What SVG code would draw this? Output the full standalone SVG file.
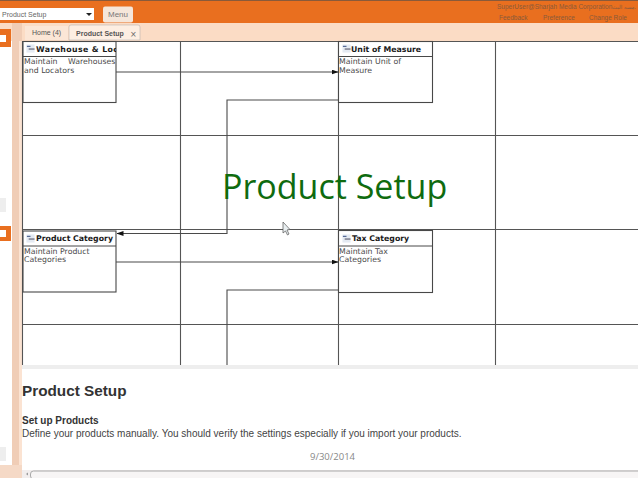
<svg xmlns="http://www.w3.org/2000/svg" width="638" height="478" viewBox="0 0 638 478">
<defs>
<style>
.grid{fill:none;stroke:#555;stroke-width:1.1}
.conn{fill:none;stroke:#4a4a4a;stroke-width:1.1}
.box{fill:#fff;stroke:#484848;stroke-width:1.1}
.sep{stroke:#484848;stroke-width:1}
.title{font-family:"DejaVu Sans",sans-serif;font-weight:700;font-size:7.800px;fill:#1a1a1a}
.desc{font-family:"DejaVu Sans",sans-serif;font-size:7.800px;fill:#4a4a4a}
.ui{font-family:"Liberation Sans",sans-serif;font-size:6.500px;fill:#8a5a3a}
.tab{font-family:"Liberation Sans",sans-serif;font-size:7px;fill:#555}
</style>
<marker id="arrow" markerWidth="7" markerHeight="5" refX="6.500" refY="2.500" orient="auto" markerUnits="userSpaceOnUse"><path d="M0,0L7,2.500L0,5Z" fill="#111"/></marker>
<clipPath id="c1"><rect x="24" y="42" width="92" height="16"/></clipPath>
<symbol id="ic" viewBox="0 0 10 10"><rect x="0.500" y="0.500" width="9" height="9" fill="#e4eaf2"/><rect x="1" y="2" width="4" height="1.200" fill="#44598a"/><rect x="3" y="5" width="6.500" height="1.200" fill="#556"/></symbol>
</defs>
<rect width="638" height="478" fill="#fff"/>
<rect width="638" height="23" fill="#e96f1f"/>
<rect width="638" height="1" fill="#8a5a3a"/>
<rect x="0" y="23" width="638" height="18" fill="#fbdcc5"/>
<rect x="12" y="23" width="10" height="455" fill="#f0cdb6"/>
<rect x="19" y="41" width="3" height="437" fill="#fbe3d2"/>
<rect x="0" y="465" width="22" height="13" fill="#f5d9c6"/>
<rect x="0" y="8" width="94" height="12" fill="#fff"/>
<text x="2" y="16.500" font-family="Liberation Sans,sans-serif" font-size="7" fill="#666">Product Setup</text>
<path d="M86,13h6l-3,3z" fill="#222"/>
<rect x="103" y="6.500" width="30" height="16" rx="2" fill="#f5e6da"/>
<text x="108" y="17" font-family="Liberation Sans,sans-serif" font-size="8" fill="#777">Menu</text>
<text x="497" y="8.500" class="ui">SuperUser@Sharjah Media Corporation</text>
<text x="636" y="8.500" text-anchor="end" font-family="Noto Sans,DejaVu Sans,sans-serif" font-size="5.500" fill="#8a5a3a">مسه البث.</text>
<text x="499" y="20" class="ui">Feedback</text>
<text x="543" y="20" class="ui">Preference</text>
<text x="589" y="20" class="ui">Change Role</text>
<rect x="0" y="29" width="11" height="18" fill="#e96f1f"/><rect x="0" y="35" width="6" height="7" fill="#fff"/>
<rect x="0" y="226" width="11" height="15" fill="#e96f1f"/><rect x="0" y="230" width="6" height="7" fill="#fff"/>
<rect x="0" y="198" width="6" height="14" fill="#eee"/>
<rect x="0" y="447" width="6" height="14" fill="#eee"/>
<rect x="25" y="26" width="43" height="14" fill="#fbe6d6"/>
<text x="32" y="35" class="tab">Home (4)</text>
<path d="M69,40V27q0-2 2-2h67q2 0 2,2V40z" fill="#fdeee2" stroke="#aaa" stroke-width="0.500"/>
<text x="76" y="36" class="tab" font-weight="700" fill="#444">Product Setup</text>
<text x="130" y="37" font-family="DejaVu Sans,sans-serif" font-size="8" fill="#666">×</text>
<rect x="22" y="41" width="616" height="324" fill="#fff"/>
<g id="grid" class="grid">
<path d="M22.500,41V365M180.500,41V365M338.500,41V365M495.500,41V365"/>
<path d="M22,41.500H638M22,135.500H638M22,229.500H638M22,324.500H638"/>
</g>
<g id="connectors" class="conn">
<path d="M116,72H338" marker-end="url(#arrow)"/>
<path d="M338,100H227V233.500H117" marker-end="url(#arrow)"/>
<path d="M116,262H338" marker-end="url(#arrow)"/>
<path d="M338,290H227V365"/>
</g>
<g id="node-warehouse">
<rect class="box" x="23" y="41.500" width="93" height="61"/>
<path class="sep" d="M23,56.500H116"/>
<use href="#ic" x="26" y="44" width="9" height="9"/>
<text class="title" x="36" y="51.500" clip-path="url(#c1)" letter-spacing="0.400">Warehouse &amp; Locators</text>
<text class="desc" x="24" y="64">Maintain<tspan x="68">Warehouses</tspan></text>
<text class="desc" x="24" y="72.500">and Locators</text>
</g>
<g id="node-uom">
<rect class="box" x="338.500" y="41.500" width="94" height="61"/>
<path class="sep" d="M338,56.500H432"/>
<use href="#ic" x="342" y="44" width="9" height="9"/>
<text class="title" x="351" y="51.500">Unit of Measure</text>
<text class="desc" x="339" y="64">Maintain Unit of</text>
<text class="desc" x="339" y="72.500">Measure</text>
</g>
<g id="node-category">
<rect class="box" x="23" y="231" width="93" height="61"/>
<path class="sep" d="M23,246H116"/>
<use href="#ic" x="26" y="234" width="9" height="9"/>
<text class="title" x="36" y="241">Product Category</text>
<text class="desc" x="24" y="253.500">Maintain Product</text>
<text class="desc" x="24" y="262">Categories</text>
</g>
<g id="node-tax">
<rect class="box" x="338.500" y="230.500" width="94" height="62"/>
<path class="sep" d="M338,246H432"/>
<use href="#ic" x="342" y="234" width="9" height="9"/>
<text class="title" x="352" y="241">Tax Category</text>
<text class="desc" x="339" y="253.500">Maintain Tax</text>
<text class="desc" x="339" y="262">Categories</text>
</g>
<text x="222" y="199" font-family="Open Sans,sans-serif" font-size="34" fill="#0f6b0f">Product Setup</text>
<path d="M283,222V233L285.500,231L287.500,235L289,234L287,230L290,229.500Z" fill="#e8eef0" stroke="#555" stroke-width="0.700"/>
<rect x="22" y="365" width="616" height="4" fill="#eee"/>
<text x="22" y="396" font-family="Liberation Sans,sans-serif" font-size="15.300" font-weight="700" fill="#333">Product Setup</text>
<text x="22" y="424" font-family="Liberation Sans,sans-serif" font-size="10" font-weight="700" fill="#333">Set up Products</text>
<text x="22" y="437" font-family="Liberation Sans,sans-serif" font-size="10" fill="#444">Define your products manually. You should verify the settings especially if you import your products.</text>
<text x="332.500" y="460" text-anchor="middle" font-family="Open Sans,sans-serif" font-size="9.500" fill="#888">9/30/2014</text>
<rect x="22" y="470" width="616" height="8" fill="#f2eeee"/>
<path d="M28,472.500v3l-2,-1.500z" fill="#999"/>
<rect x="30.500" y="471" width="620" height="8" rx="3" fill="#f7f5f5" stroke="#aaa"/>
</svg>
